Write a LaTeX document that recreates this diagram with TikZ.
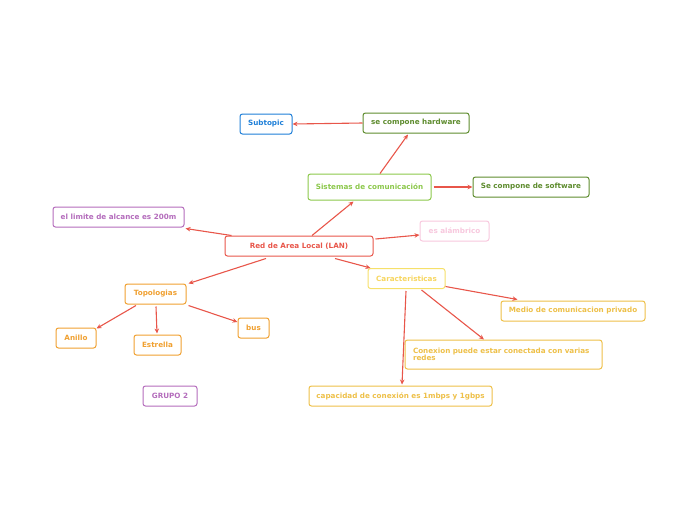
\documentclass[tikz,border=0pt]{standalone}
\usepackage{fontspec}
\setmainfont{DejaVu Sans}
\usetikzlibrary{calc,arrows.meta}
\definecolor{cred}{HTML}{E8564A}
\definecolor{cblue}{HTML}{1E7FD8}
\definecolor{cdgreen}{HTML}{5E8C2E}
\definecolor{clgreen}{HTML}{8CC84B}
\definecolor{cpurple}{HTML}{B46CBC}
\definecolor{cpink}{HTML}{F8C8DE}
\definecolor{corange}{HTML}{F0A030}
\definecolor{cyellow}{HTML}{F6E06A}
\definecolor{cgold}{HTML}{EEC048}
\tikzset{
  box/.style={draw=#1, text=#1, rounded corners=2.5pt, line width=1pt, fill=white,
    font=\bfseries\fontsize{7.2}{8}\selectfont, inner sep=0pt, minimum height=20pt, align=center},
  con/.style={draw=cred, line width=1.1pt, -{Stealth[length=5pt,width=4.5pt]}}
}
\begin{document}
\begin{tikzpicture}[x=1pt,y=-1pt]
\useasboundingbox (0,0) rectangle (697,520);
\node[box=cblue, minimum width=52pt] (sub) at (266,124) {Subtopic};
\node[box=cdgreen, minimum width=106pt] (hw) at (416,123) {se compone hardware};
\node[box=clgreen, minimum width=123pt, minimum height=26pt] (sis) at (369.5,187) {Sistemas de comunicación};
\node[box=cdgreen, minimum width=116pt] (sw) at (531,187) {Se compone de software};
\node[box=cpurple, minimum width=131pt] (lim) at (118.5,217) {el limite de alcance es 200m};
\node[box=cred, minimum width=148pt] (lan) at (299,246) {Red de Area Local (LAN)};
\node[box=cpink, minimum width=69pt] (ala) at (454.5,231) {es alámbrico};
\node[box=corange, minimum width=61pt] (top) at (155.5,294) {Topologias};
\node[box=cyellow, text=cyellow!90!orange, minimum width=77pt] (car) at (406.5,278.5) {Caracteristicas};
\node[box=cgold, minimum width=144pt] (med) at (573,311) {Medio de comunicacion privado};
\node[box=cgold, minimum width=197pt, minimum height=29pt, align=left, text width=181pt] (cnx) at (503.5,354.5) {Conexion puede estar conectada con varias\\[-1pt]redes};
\node[box=cgold, minimum width=183pt] (cap) at (400.5,396) {capacidad de conexión es 1mbps y 1gbps};
\node[box=corange, minimum width=40pt] (ani) at (76,338) {Anillo};
\node[box=corange, minimum width=47pt] (est) at (157.5,345) {Estrella};
\node[box=corange, minimum width=31pt] (bus) at (253.5,328) {bus};
\node[box=cpurple, minimum width=54pt] (gr) at (170,396) {GRUPO 2};

\draw[con] ($(lan.north)+(13,0)$) -- ($(sis.south)+(-16,1)$);
\draw[con] ($(sis.north)+(10.5,0)$) -- ($(hw.south)+(-8,1)$);
\draw[con] (hw.west) -- (sub.east);
\draw[con] ($(sis.east)+(2,0)$) -- (sw.west);
\draw[con] ($(lan.north west)+(7,0)$) -- ($(lim.south east)+(1,1)$);
\draw[con] ($(lan.east)+(2,-7)$) -- ($(ala.west)+(0,4)$);
\draw[con] ($(lan.south)+(-33,2)$) -- ($(top.north east)+(2,0)$);
\draw[con] ($(lan.south)+(36,2)$) -- ($(car.north west)+(3,0)$);
\draw[con] ($(car.east)+(0,8)$) -- ($(med.north west)+(17,-1)$);
\draw[con] ($(car.south)+(15,1)$) -- ($(cnx.north)+(-19.5,0)$);
\draw[con] ($(car.south)+(-0.5,2)$) -- ($(cap.north)+(1.5,-1)$);
\draw[con] ($(top.south)+(-19.5,1)$) -- ($(ani.north east)+(0,1)$);
\draw[con] ($(top.south)+(0.5,2)$) -- ($(est.north)+(-0.5,-1)$);
\draw[con] ($(top.south east)+(2,1)$) -- ($(bus.west)+(0,-6)$);
\end{tikzpicture}
\end{document}
